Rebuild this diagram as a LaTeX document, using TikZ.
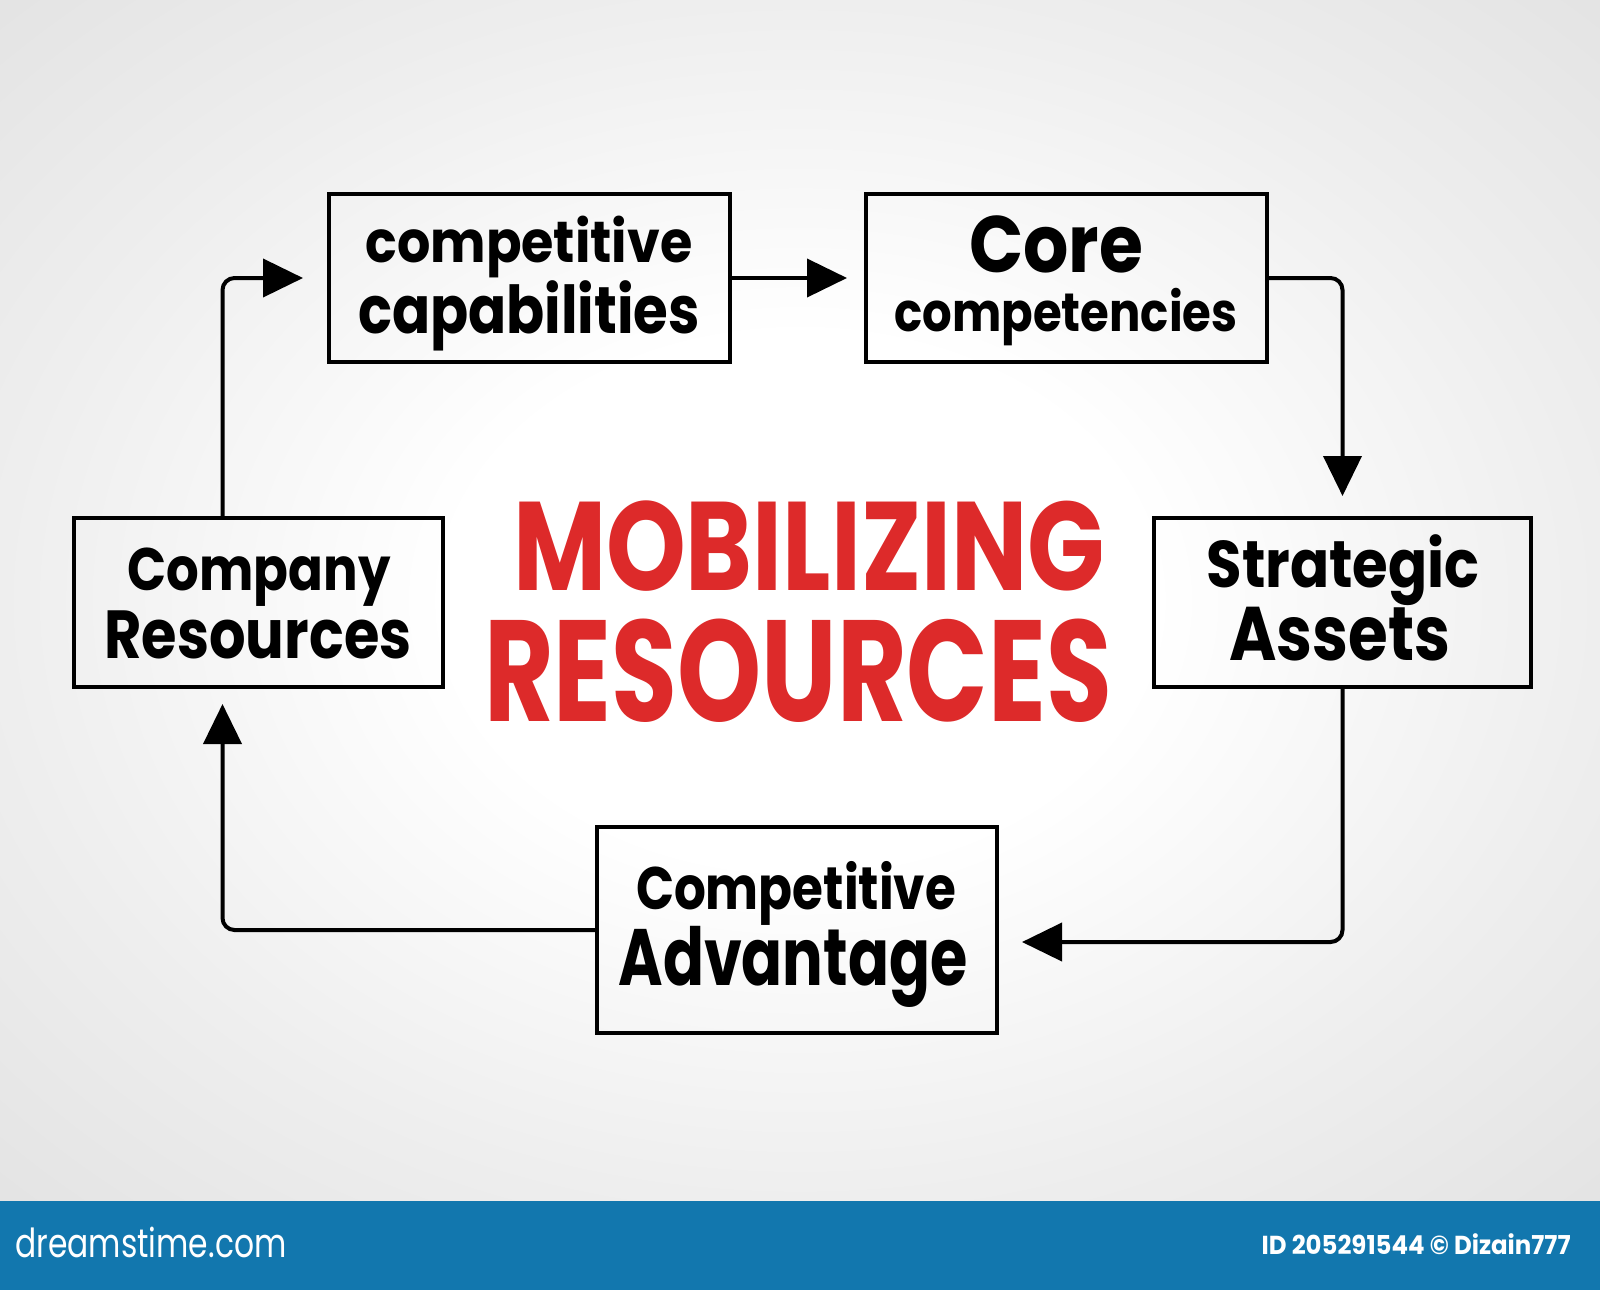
\documentclass[tikz,border=0pt]{standalone}
\usepackage{fontspec}
\setmainfont{Poppins}
\usetikzlibrary{arrows.meta,calc}
\definecolor{titlered}{HTML}{DD2A2A}
\definecolor{barblue}{HTML}{1277AE}
\definecolor{bgmid}{HTML}{EEEEEE}
\definecolor{bgedge}{HTML}{E4E4E4}
\pgfdeclareradialshading{bgshade}{\pgfpoint{0bp}{0bp}}{color(0bp)=(white); color(11bp)=(white); color(25bp)=(bgmid); color(35bp)=(bgedge); color(50bp)=(bgedge)}
\newcommand{\fitw}[2]{\resizebox{#1}{\height}{#2}}
\newcommand{\fsz}[1]{\fontsize{#1}{1.2\dimexpr#1\relax}\selectfont}
\begin{document}
\begin{tikzpicture}[x=0.5pt,y=-0.5pt,
  box/.style={draw=black, line width=2pt, rectangle, inner sep=0pt},
  lbl/.style={anchor=base, inner sep=0pt, text=black, font=\bfseries},
  ttl/.style={anchor=base, inner sep=0pt, text=titlered, font=\bfseries},
  conn/.style={draw=black, line width=2pt, rounded corners=6pt,
    -{Triangle[length=20pt,width=19pt]}},
  bartext/.style={inner sep=0pt, text=white}]
\useasboundingbox (0,0) rectangle (1600,1290);
% background
\shade[shading=bgshade] (0,0) rectangle (1600,1201);
\fill[barblue] (0,1201) rectangle (1600,1290);

% boxes
\node[box, minimum width=200.5pt, minimum height=84pt] (cap) at (529.5,278) {};
\node[box, minimum width=200.5pt, minimum height=84pt] (core) at (1066.5,278) {};
\node[box, minimum width=184.5pt, minimum height=84.5pt] (company) at (258.5,602.5) {};
\node[box, minimum width=188.5pt, minimum height=84.5pt] (strat) at (1342.5,602.5) {};
\node[box, minimum width=200pt, minimum height=103pt] (adv) at (797,930) {};

% box texts
\node[lbl] (capA) at (529,262) {\fsz{29pt}\fitw{163.5pt}{competitive}};
\node[lbl] (capB) at (529,333) {\fsz{33pt}\fitw{171pt}{capabilities}};
\node[lbl] (coreA) at (1056,272) {\fsz{40pt}\fitw{87pt}{Core}};
\node[lbl] (coreB) at (1066,331) {\fsz{27pt}\fitw{171.5pt}{competencies}};
\node[lbl] (compA) at (259,590) {\fsz{30pt}\fitw{131.5pt}{Company}};
\node[lbl] (compB) at (258,658) {\fsz{34pt}\fitw{153.5pt}{Resources}};
\node[lbl] (stratA) at (1343,587) {\fsz{33pt}\fitw{136.5pt}{Strategic}};
\node[lbl] (stratB) at (1340,660) {\fsz{38pt}\fitw{110.5pt}{Assets}};
\node[lbl] (advA) at (796,909) {\fsz{30pt}\fitw{160pt}{Competitive}};
\node[lbl] (advB) at (793,985) {\fsz{40pt}\fitw{174.5pt}{Advantage}};

% title
\node[ttl] (title1) at (809,590) {\fsz{63pt}\fitw{296pt}{MOBILIZING}};
\node[ttl] (title2) at (798,721) {\fsz{72pt}\fitw{314pt}{RESOURCES}};

% connectors
\draw[conn] ($(company.north)+(-36,0)$) |- ($(cap.west)+(-24,0)$);
\draw[conn] (cap.east) -- ($(core.west)+(-17,0)$);
\draw[conn] (core.east) -| ($(strat.north)+(0,-20)$);
\draw[conn] (strat.south) |- ($(adv.east)+(23,12)$);
\draw[conn] (adv.west) -| ($(company.south)+(-36,15)$);

% bottom bar texts
\node[bartext, anchor=base west] (logo) at (15,1257) {\fsz{20pt}\fitw{135.5pt}{dreamstime.com}};
\node[bartext, anchor=base east] (credit) at (1571,1254) {\fsz{13pt}\bfseries\fitw{154.5pt}{ID 205291544 © Dizain777}};
\end{tikzpicture}
\end{document}
